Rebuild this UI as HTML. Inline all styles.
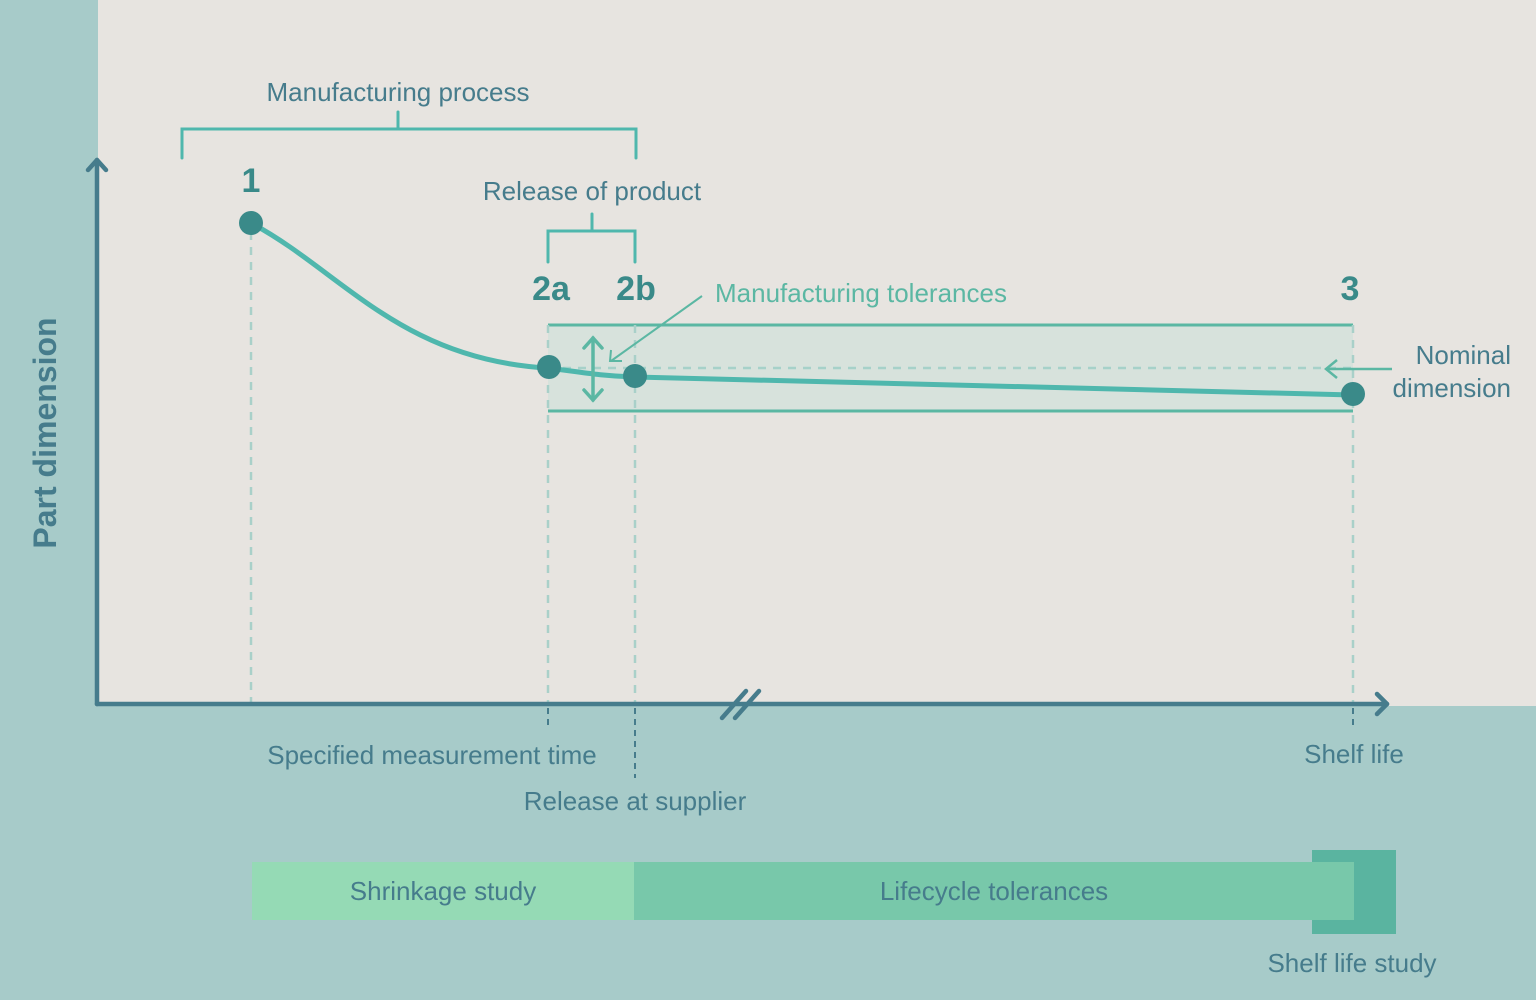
<!DOCTYPE html>
<html><head><meta charset="utf-8"><style>
html,body{margin:0;padding:0;background:#a7cbc9;}
svg{display:block;}
text{font-family:"Liberation Sans",sans-serif;}
</style></head><body>
<svg width="1536" height="1000" viewBox="0 0 1536 1000" xmlns="http://www.w3.org/2000/svg">
<rect x="0" y="0" width="1536" height="1000" fill="#a7cbc9"/>
<rect x="98" y="0" width="1438" height="706" fill="#e7e4e0"/>
<rect x="548" y="325" width="805" height="86" fill="#d7e2dc"/>
<line x1="548" y1="325" x2="1353" y2="325" stroke="#5bb7a3" stroke-width="3"/>
<line x1="548" y1="411" x2="1353" y2="411" stroke="#5bb7a3" stroke-width="3"/>
<line x1="548" y1="368" x2="1353" y2="368" stroke="#a6d1c9" stroke-width="2.5" stroke-dasharray="8,7"/>
<g stroke="#a9d0c9" stroke-width="2.5" stroke-dasharray="8,7">
<line x1="251" y1="232" x2="251" y2="704"/>
<line x1="548" y1="325" x2="548" y2="704"/>
<line x1="635" y1="325" x2="635" y2="704"/>
<line x1="1353" y1="325" x2="1353" y2="704"/>
</g>
<g stroke="#467c8c" stroke-width="2" stroke-dasharray="6,5">
<line x1="548" y1="708" x2="548" y2="730"/>
<line x1="635" y1="708" x2="635" y2="778"/>
<line x1="1353" y1="708" x2="1353" y2="730"/>
</g>
<g stroke="#4fb7ad" stroke-width="3" fill="none" stroke-linecap="round">
<path d="M182 158 V129 H636 V158"/>
<line x1="398" y1="112" x2="398" y2="129"/>
<path d="M548 262 V231 H635 V262"/>
<line x1="592" y1="214" x2="592" y2="231"/>
</g>
<path d="M251 223 C340 270 400 360 548 368 C580 372 600 376 635 377 L1353 395" stroke="#4fb7ad" stroke-width="5" fill="none"/>
<g stroke="#5bb7a3" stroke-width="3.5" fill="none" stroke-linecap="round">
<line x1="593" y1="338" x2="593" y2="400"/>
<path d="M584 348 L593 338 L602 348"/>
<path d="M584 390 L593 400 L602 390"/>
</g>
<g stroke="#5bb7a3" stroke-width="2" fill="none">
<line x1="702" y1="296" x2="611" y2="361"/>
<path d="M611 350 L610 361 L622 361"/>
</g>
<g stroke="#5bb7a3" stroke-width="2.5" fill="none">
<line x1="1326" y1="369" x2="1392" y2="369"/>
<path d="M1337 360 L1326 369 L1337 378"/>
</g>
<g fill="#3a8a89">
<circle cx="251" cy="223" r="12"/>
<circle cx="549" cy="367" r="12"/>
<circle cx="635" cy="376" r="12"/>
<circle cx="1353" cy="394" r="12"/>
</g>
<g stroke="#467c8c" stroke-width="4.5" fill="none" stroke-linecap="round" stroke-linejoin="round">
<path d="M97 704 V160"/>
<path d="M88 170 L97 160 L106 170"/>
<path d="M97 704 H1387"/>
<path d="M1377 694 L1387 704 L1377 714"/>
<line x1="722" y1="718" x2="746" y2="691"/>
<line x1="735" y1="718" x2="759" y2="691"/>
</g>
<g fill="#467c8c" font-size="26">
<text x="398" y="101" text-anchor="middle">Manufacturing process</text>
<text x="592" y="200" text-anchor="middle">Release of product</text>
<text x="1511" y="364" text-anchor="end">Nominal</text>
<text x="1511" y="397" text-anchor="end">dimension</text>
<text x="432" y="764" text-anchor="middle">Specified measurement time</text>
<text x="635" y="810" text-anchor="middle">Release at supplier</text>
<text x="1354" y="763" text-anchor="middle">Shelf life</text>
<text x="1352" y="972" text-anchor="middle">Shelf life study</text>
</g>
<text x="861" y="302" fill="#5bb7a3" font-size="26" text-anchor="middle">Manufacturing tolerances</text>
<g fill="#3a8a89" font-size="34" font-weight="bold" text-anchor="middle">
<text x="251" y="192">1</text>
<text x="551" y="300">2a</text>
<text x="636" y="300">2b</text>
<text x="1350" y="300">3</text>
</g>
<text transform="translate(56 433) rotate(-90)" fill="#467c8c" font-size="32" font-weight="bold" text-anchor="middle">Part dimension</text>
<rect x="1312" y="850" width="84" height="84" fill="#5ab4a0"/>
<rect x="252" y="862" width="382" height="58" fill="#95dab5"/>
<rect x="634" y="862" width="720" height="58" fill="#78c8aa"/>
<text x="443" y="900" fill="#467c8c" font-size="26" text-anchor="middle">Shrinkage study</text>
<text x="994" y="900" fill="#467c8c" font-size="26" text-anchor="middle">Lifecycle tolerances</text>
</svg>
</body></html>
